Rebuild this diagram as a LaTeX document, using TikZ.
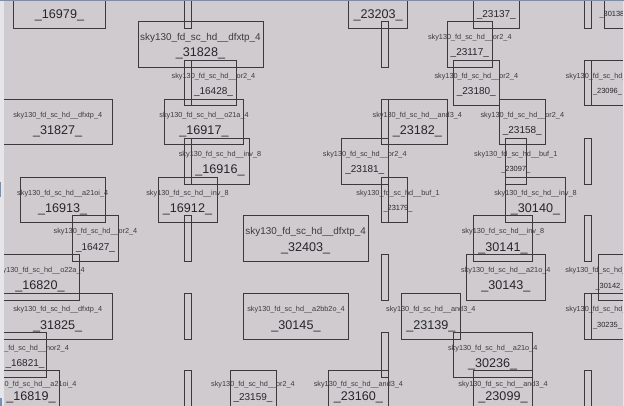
\documentclass[tikz,border=0pt]{standalone}
\usepackage{fontspec}
\setmainfont{Liberation Sans}
\definecolor{canvasgrey}{HTML}{CFCBCF}
\definecolor{stripgrey}{HTML}{E6E6EA}
\definecolor{barblue}{HTML}{7390BC}
\definecolor{linegrey}{HTML}{3A3A3C}
\definecolor{labelgrey}{HTML}{3C3C3E}
\definecolor{numgrey}{HTML}{26262A}
\tikzset{
  cellbox/.style={draw=linegrey,line width=0.85pt,inner sep=0pt,outer sep=0pt,rectangle},
  celllabel/.style={text=labelgrey,inner sep=0pt,anchor=base},
  cellnum/.style={text=numgrey,inner sep=0pt,anchor=base},
  lblS/.style={font=\fontsize{7.3}{8}\selectfont,yshift=-2.6pt},
  lblL/.style={font=\fontsize{9.9}{11}\selectfont,yshift=-3.5pt},
  numS/.style={font=\fontsize{7.45}{8}\selectfont,yshift=-2.7pt},
  numM/.style={font=\fontsize{10}{11}\selectfont,yshift=-3.6pt},
  numL/.style={font=\fontsize{12.6}{13}\selectfont,yshift=-4.5pt},
}
\newcommand{\lyoff}{15.6}
\newcommand{\nyoff}{31.2}
% box only: name, x1, y1, x2, y2
\newcommand{\cellframe}[5]{%
  \pgfmathsetmacro{\bw}{#4-#2}\pgfmathsetmacro{\bh}{#5-#3}%
  \pgfmathsetmacro{\bx}{(#2+#4)/2}\pgfmathsetmacro{\by}{(#3+#5)/2}%
  \node[cellbox,minimum width=\bw pt,minimum height=\bh pt] (#1) at (\bx,\by) {};}
% box with number only: number, x1, y1, x2, y2, text centre x, number style
\newcommand{\numcell}[7]{%
  \cellframe{c#1}{#2}{#3}{#4}{#5}%
  \pgfmathsetmacro{\ny}{#3+\nyoff}%
  \node[cellnum,#7] (n#1) at (#6,\ny) {\_#1\_};}
% box with texts: number, x1, y1, x2, y2, text centre x, cell type, label style, number style
\newcommand{\cell}[9]{%
  \numcell{#1}{#2}{#3}{#4}{#5}{#6}{#9}%
  \pgfmathsetmacro{\ly}{#3+\lyoff}%
  \node[celllabel,#8] (l#1) at (#6,\ly) {sky130\_fd\_sc\_hd\_\_#7};}
\begin{document}
\begin{tikzpicture}[x=1pt,y=-1pt]
\useasboundingbox (0,0) rectangle (624,406);
\clip (0,0) rectangle (624,406);
\fill[canvasgrey] (0,0) rectangle (624,406);
% row 0 (cut by the top edge)
\numcell{16979}{13.3}{-17.6}{105.7}{28}{59.5}{numL}
\numcell{23203}{348.7}{-17.6}{407.7}{28}{378.2}{numL}
\numcell{23137}{473.3}{-17.6}{519.3}{28}{496.3}{numM}
\numcell{30138}{604.7}{-17.6}{640}{28}{614}{numS}
\cellframe{s1}{184.5}{-17.6}{191}{28}
\cellframe{s2}{584.3}{-17.6}{591}{28}
% row 1
\cell{31828}{138}{21}{263}{67}{200.5}{dfxtp\_4}{lblL}{numL}
\cell{23117}{447}{21}{492.7}{67}{469.8}{or2\_4}{lblS}{numM}
\cellframe{s3}{381}{21}{388.5}{67}
% row 2
\cell{16428}{191}{60}{236.5}{105.5}{213.5}{or2\_4}{lblS}{numM}
\cellframe{s4}{184.5}{60}{191}{105.5}
\cell{23180}{453.3}{60}{499.3}{105.5}{476.3}{or2\_4}{lblS}{numM}
\cell{23096}{591}{60}{640}{105.5}{607.5}{or2\_4}{lblS}{numS}
\cellframe{s5}{584.3}{60}{591}{105.5}
% row 3
\cell{31827}{3.4}{99}{112}{144.5}{57.7}{dfxtp\_4}{lblS}{numL}
\cell{16917}{164.5}{99}{243.5}{144.5}{204}{o21a\_4}{lblS}{numL}
\cell{23182}{388.5}{99}{447}{144.5}{417.3}{and3\_4}{lblS}{numL}
\cellframe{s6}{381}{99}{388.5}{144.5}
\cell{23158}{499.3}{99}{545.3}{144.5}{522.3}{or2\_4}{lblS}{numM}
% row 4
\cell{16916}{191}{138}{249.5}{184}{220}{inv\_8}{lblS}{numL}
\cellframe{s7}{184.5}{138}{191}{184}
\cell{23181}{341.3}{138}{388.5}{184}{364.8}{or2\_4}{lblS}{numM}
\cell{23097}{505.7}{138}{526}{184}{515.8}{buf\_1}{lblS}{numS}
\cellframe{s8}{584.3}{138}{591}{184}
% row 5
\cell{16913}{20}{177}{105.5}{222.7}{62.7}{a21oi\_4}{lblS}{numL}
\cell{16912}{158}{177}{217}{222.7}{187.5}{inv\_8}{lblS}{numL}
\cell{23179}{388.5}{177}{407.7}{222.7}{398}{buf\_1}{lblS}{numS}
\cellframe{s9}{381}{177}{388.5}{222.7}
\cell{30140}{505.7}{177}{565.3}{222.7}{535.5}{inv\_8}{lblS}{numL}
% row 6
\cell{16427}{72.5}{215.7}{118.5}{261.3}{95.5}{or2\_4}{lblS}{numM}
\cellframe{s10}{184.5}{215.7}{191}{261.3}
\cell{32403}{243.5}{215.7}{368}{261.3}{305.7}{dfxtp\_4}{lblL}{numL}
\cell{30141}{473.3}{215.7}{532.7}{261.3}{503}{inv\_8}{lblS}{numL}
\cellframe{s11}{584.3}{215.7}{591}{261.3}
% row 7
\cell{16820}{0.5}{254.3}{79.5}{300}{40}{o22a\_4}{lblS}{numL}
\cellframe{s12}{381}{254.3}{388.5}{300}
\cell{30143}{466.3}{254.3}{545.3}{300}{505.8}{a21o\_4}{lblS}{numL}
\cell{30142}{598}{254.3}{640}{300}{610}{a21o\_4}{lblS}{numS}
% row 8
\cell{31825}{3.4}{293.3}{112}{339}{57.7}{dfxtp\_4}{lblS}{numL}
\cellframe{s13}{184.5}{293.3}{191}{339}
\cell{30145}{243.5}{293.3}{348.7}{339}{296}{a2bb2o\_4}{lblS}{numL}
\cell{23139}{401.3}{293.3}{460.3}{339}{430.8}{and3\_4}{lblS}{numL}
\cell{30235}{591}{293.3}{640}{339}{607.5}{or2\_4}{lblS}{numS}
\cellframe{s14}{584.3}{293.3}{591}{339}
% row 9
\cell{16821}{-4}{332}{46}{377.7}{25}{nor2\_4}{lblS}{numM}
\cellframe{s15}{381}{332}{388.5}{377.7}
\cell{30236}{453.3}{332}{532.7}{377.7}{492.7}{a21o\_4}{lblS}{numL}
% row 10 (cut by the bottom edge)
\renewcommand{\lyoff}{13.3}
\renewcommand{\nyoff}{25.7}
\cell{16819}{-5}{370.7}{59.5}{416.4}{31}{a21oi\_4}{lblS}{numL}
\cellframe{s16}{184.5}{370.7}{191}{416.4}
\cell{23159}{230}{370.7}{276}{416.4}{253}{or2\_4}{lblS}{numM}
\cell{23160}{328.3}{370.7}{388.5}{416.4}{358.4}{and3\_4}{lblS}{numL}
\cell{23099}{473.3}{370.7}{532.7}{416.4}{503}{and3\_4}{lblS}{numL}
\cellframe{s17}{584.3}{370.7}{591}{416.4}
% window edges
\fill[stripgrey] (0,0) rectangle (4,406);
\fill[stripgrey] (622.7,0) rectangle (624,406);
\fill[barblue] (0,0) rectangle (624,1.2);
\fill[barblue] (0,182) rectangle (1.2,197);
\fill[barblue] (0,398) rectangle (2,406);
\end{tikzpicture}
\end{document}
